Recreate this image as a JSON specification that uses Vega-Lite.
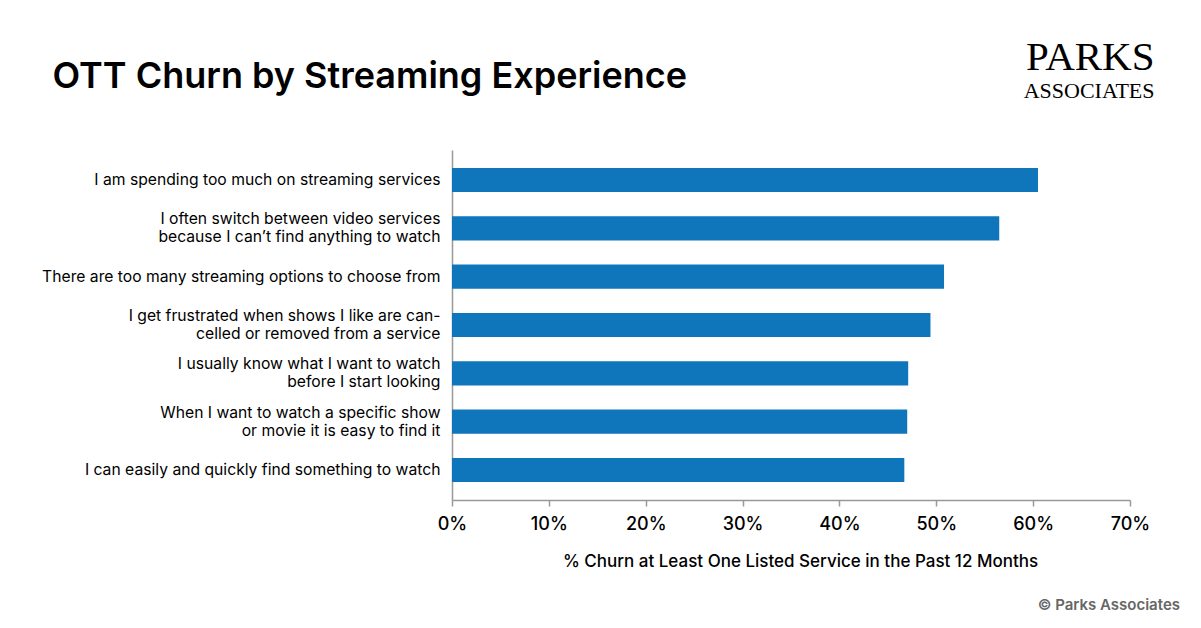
{
  "$schema": "https://vega.github.io/schema/vega-lite/v6.json",
  "width": 678,
  "height": 350,
  "autosize": {"type": "none"},
  "padding": {"left": 452, "top": 150, "right": 71, "bottom": 128},
  "background": "white",
  "config": {"view": {"stroke": null}, "font": "Inter"},
  "title": {
    "text": "© Parks Associates",
    "orient": "bottom",
    "anchor": "end",
    "frame": "group",
    "dx": 50,
    "offset": 29,
    "font": "Inter",
    "fontSize": 15,
    "fontWeight": 600,
    "color": "#666666"
  },
  "data": {
    "values": [
      {"label": "I am spending too much on streaming services", "churn": 0.605},
      {"label": "I often switch between video services|because I can’t find anything to watch", "churn": 0.565},
      {"label": "There are too many streaming options to choose from", "churn": 0.508},
      {"label": "I get frustrated when shows I like are can-|celled or removed from a service", "churn": 0.494},
      {"label": "I usually know what I want to watch|before I start looking", "churn": 0.471},
      {"label": "When I want to watch a specific show|or movie it is easy to find it", "churn": 0.470},
      {"label": "I can easily and quickly find something to watch", "churn": 0.467}
    ]
  },
  "resolve": {"axis": {"x": "independent", "y": "independent"}},
  "layer": [
    {
      "mark": {"type": "bar", "color": "#1076BC"},
      "encoding": {
        "y": {
          "field": "label",
          "type": "nominal",
          "sort": null,
          "scale": {"paddingInner": 0.5, "paddingOuter": 0.37},
          "axis": {
            "orient": "left",
            "labelExpr": "split(datum.value, '|')",
            "labelOffset": {"expr": "indexof(datum.value, '|') >= 0 ? -9 : 0"},
            "labelFont": "Inter",
            "labelFontSize": 15.7,
            "labelColor": "#000000",
            "labelLineHeight": 18,
            "labelPadding": 12,
            "labelLimit": 500,
            "ticks": false,
            "domainColor": "#999999",
            "domainWidth": 1.5,
            "title": "OTT Churn by Streaming Experience",
            "titleAngle": 0,
            "titleAlign": "left",
            "titleBaseline": "alphabetic",
            "titleX": -400,
            "titleY": -63,
            "titleFont": "Inter",
            "titleFontSize": 36,
            "titleFontWeight": 600,
            "titleColor": "#000000"
          }
        },
        "x": {
          "field": "churn",
          "type": "quantitative",
          "scale": {"domain": [0, 0.7], "nice": false},
          "axis": {
            "orient": "bottom",
            "values": [0, 0.1, 0.2, 0.3, 0.4, 0.5, 0.6, 0.7],
            "format": ".0%",
            "grid": false,
            "domainColor": "#999999",
            "domainWidth": 1.5,
            "tickColor": "#999999",
            "tickWidth": 1.5,
            "tickSize": 6,
            "labelFont": "Inter",
            "labelFontSize": 18,
            "labelFontWeight": 500,
            "labelColor": "#000000",
            "labelPadding": 9,
            "labelFlush": false,
            "title": "% Churn at Least One Listed Service in the Past 12 Months",
            "titleX": 348,
            "titleAlign": "center",
            "titleFont": "Inter",
            "titleFontSize": 17,
            "titleFontWeight": 500,
            "titleColor": "#000000",
            "titlePadding": 20
          }
        }
      }
    },
    {
      "mark": {"type": "bar", "opacity": 0},
      "encoding": {
        "y": {
          "field": "label",
          "type": "nominal",
          "sort": null,
          "axis": {
            "orient": "right",
            "labels": false,
            "ticks": false,
            "domain": false,
            "title": "ASSOCIATES",
            "titleAngle": 0,
            "titleAlign": "right",
            "titleBaseline": "alphabetic",
            "titleX": 24,
            "titleY": -53,
            "titleFont": "Liberation Serif",
            "titleFontSize": 22,
            "titleFontWeight": "normal",
            "titleColor": "#000000"
          }
        },
        "x": {
          "field": "churn",
          "type": "quantitative",
          "axis": {
            "orient": "top",
            "labels": false,
            "ticks": false,
            "domain": false,
            "grid": false,
            "title": "PARKS",
            "titleAlign": "right",
            "titleBaseline": "alphabetic",
            "titleX": 702,
            "titleY": -81,
            "titleFont": "Liberation Serif",
            "titleFontSize": 41,
            "titleFontWeight": "normal",
            "titleColor": "#000000"
          }
        }
      }
    }
  ]
}
